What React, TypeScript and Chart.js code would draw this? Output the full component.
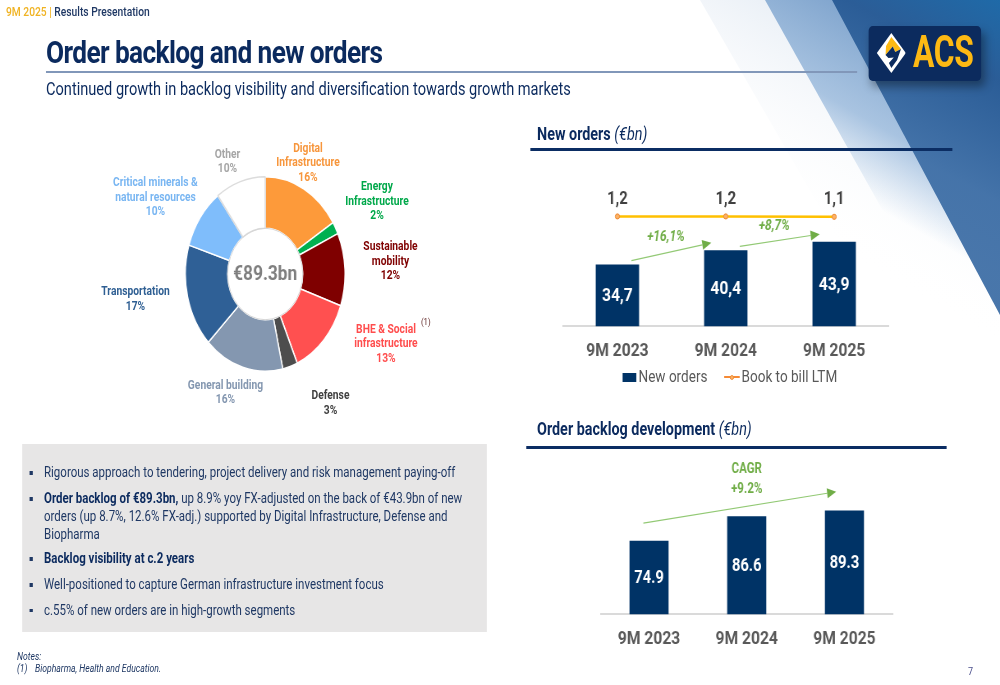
import React, { useEffect, useRef } from "react";
import { Chart, registerables } from "chart.js";

Chart.register(...registerables);

/* ---------- data ---------- */
const segmentNames = [
  "Digital\nInfrastructure",
  "Energy\nInfrastructure",
  "Sustainable\nmobility",
  "BHE & Social\ninfrastructure",
  "Defense",
  "General building",
  "Transportation",
  "Critical minerals &\nnatural resources",
  "Other",
];
const segmentShares = [16, 2, 12, 13, 3, 16, 17, 10, 10];
const segmentNotes = ["", "", "", "(1)", "", "", "", "", ""];

const periods = ["9M 2023", "9M 2024", "9M 2025"];
const newOrders = [34.7, 40.4, 43.9];
const bookToBill = [1.2, 1.2, 1.1];
const newOrdersGrowth = ["+16,1%", "+8,7%"];
const backlog = [74.9, 86.6, 89.3];
const backlogCagr = "+9.2%";

/* ---------- styling ---------- */
// The slide is laid out on a 16:9 sheet and squeezed horizontally into the page.
const SLIDE_W = 1218;
const SX = 1000 / SLIDE_W;
const sx = (x: number) => x / SX;
const FONT = "Roboto, 'Liberation Sans', Arial, sans-serif";
const NAVY = "#0b2a5e";
const TEXT_NAVY = "#1f3864";
const BAR = "#003366";
const GREEN = "#70ad47";
const GREY_TXT = "#595959";

const segmentColors = ["#fd9a3a", "#00b050", "#7f0000", "#ff5050", "#4d4d4d", "#8497b0", "#2f6096", "#7fbdfb", "#ffffff"];
const segmentBorders = ["#ffffff", "#ffffff", "#ffffff", "#ffffff", "#ffffff", "#ffffff", "#ffffff", "#ffffff", "#dcdcdc"];
const segmentTextColors = ["#f7963c", "#00a84a", "#7f0000", "#ff4d4d", "#404040", "#8497b0", "#2f5f93", "#79b6f2", "#a6a6a6"];
// label anchors: centre x, centre y of the first line
const segmentLabelPos: [number, number][] = [
  [308, 148],
  [377, 186.5],
  [390.5, 246.5],
  [386, 329],
  [330.5, 395.5],
  [225.5, 385],
  [135.5, 291.5],
  [155.5, 182.3],
  [227.5, 154],
];

const comma = (v: number) => v.toFixed(1).replace(".", ",");

/* ---------- helpers ---------- */
type TxtProps = {
  x: number;
  cy: number;
  size: number;
  lh?: number;
  weight?: number | string;
  color?: string;
  italic?: boolean;
  center?: boolean;
  children: React.ReactNode;
  extra?: React.CSSProperties;
};
function Txt({ x, cy, size, lh, weight = 400, color = TEXT_NAVY, italic, center, children, extra }: TxtProps) {
  const l = lh ?? Math.round(size * 1.2);
  return (
    <div
      style={{
        position: "absolute",
        left: sx(x),
        top: cy - l / 2,
        fontSize: size,
        lineHeight: `${l}px`,
        fontWeight: weight as any,
        color,
        fontStyle: italic ? "italic" : "normal",
        whiteSpace: "pre",
        transform: center ? "translateX(-50%)" : undefined,
        textAlign: center ? "center" : "left",
        fontFamily: FONT,
        ...extra,
      }}
    >
      {children}
    </div>
  );
}

function drawArrow(ctx: CanvasRenderingContext2D, x0: number, y0: number, x1: number, y1: number) {
  const ang = Math.atan2(y1 - y0, x1 - x0);
  const head = 11;
  const half = 5;
  const bx = x1 - head * Math.cos(ang);
  const by = y1 - head * Math.sin(ang);
  ctx.save();
  ctx.strokeStyle = "#92c974";
  ctx.lineWidth = 1.2;
  ctx.beginPath();
  ctx.moveTo(x0, y0);
  ctx.lineTo(bx, by);
  ctx.stroke();
  ctx.fillStyle = GREEN;
  ctx.beginPath();
  ctx.moveTo(x1, y1);
  ctx.lineTo(bx + half * Math.sin(ang), by - half * Math.cos(ang));
  ctx.lineTo(bx - half * Math.sin(ang), by + half * Math.cos(ang));
  ctx.closePath();
  ctx.fill();
  ctx.restore();
}

const xAxis = {
  grid: { display: false, drawTicks: false },
  border: { display: true, color: "#dadada", width: 2 },
  ticks: { color: GREY_TXT, font: { family: FONT, size: 19, weight: "bold" as const }, padding: 14 },
};

/* ---------- backlog mix doughnut ---------- */
function MixDonut() {
  const ref = useRef<HTMLCanvasElement>(null);
  useEffect(() => {
    const centerTotal = {
      id: "centerTotal",
      afterDatasetsDraw(chart: any) {
        const arc = chart.getDatasetMeta(0).data[0];
        const { x, y, innerRadius } = arc.getProps(["x", "y", "innerRadius"], true);
        const ctx = chart.ctx as CanvasRenderingContext2D;
        ctx.save();
        ctx.beginPath();
        ctx.arc(x, y, innerRadius, 0, Math.PI * 2);
        ctx.strokeStyle = "#d6d6d6";
        ctx.lineWidth = 1;
        ctx.stroke();
        ctx.fillStyle = "#7f7f7f";
        ctx.font = `bold 21px ${FONT}`;
        ctx.textAlign = "center";
        ctx.textBaseline = "middle";
        ctx.fillText(`€${backlog[backlog.length - 1].toFixed(1)}bn`, x, y + 1);
        ctx.restore();
      },
    };
    const chart = new Chart(ref.current!, {
      type: "doughnut",
      data: {
        labels: segmentNames,
        datasets: [
          {
            data: segmentShares,
            backgroundColor: segmentColors,
            borderColor: segmentBorders,
            borderWidth: 1.5,
          },
        ],
      },
      options: {
        responsive: false,
        animation: false,
        cutout: "47%",
        layout: { padding: 0 },
        plugins: { legend: { display: false }, tooltip: { enabled: false } },
      },
      plugins: [centerTotal],
    });
    return () => chart.destroy();
  }, []);
  const size = 196;
  return (
    <canvas
      ref={ref}
      width={size}
      height={size}
      style={{ position: "absolute", left: sx(265.5) - size / 2, top: 273.5 - size / 2, width: size, height: size }}
    />
  );
}

/* ---------- new orders: bars + book-to-bill ---------- */
function NewOrdersChart() {
  const ref = useRef<HTMLCanvasElement>(null);
  useEffect(() => {
    const annotations = {
      id: "newOrdersAnnotations",
      afterDatasetsDraw(chart: any) {
        const ctx = chart.ctx as CanvasRenderingContext2D;
        const bottom = chart.chartArea.bottom;
        const bars = chart.getDatasetMeta(0).data;
        const pts = chart.getDatasetMeta(1).data;
        ctx.save();
        ctx.textAlign = "center";
        ctx.textBaseline = "middle";
        ctx.fillStyle = "#ffffff";
        ctx.font = `bold 19px ${FONT}`;
        bars.forEach((b: any, i: number) => ctx.fillText(comma(newOrders[i]), b.x, (b.y + bottom) / 2 + 1));
        ctx.fillStyle = "#404040";
        ctx.font = `bold 18px ${FONT}`;
        pts.forEach((p: any, i: number) => ctx.fillText(comma(bookToBill[i]), p.x, p.y - 17));
        for (let i = 0; i < bars.length - 1; i++) {
          const a = bars[i];
          const b = bars[i + 1];
          const x0 = a.x + sx(14);
          const y0 = a.y - 4;
          const x1 = b.x - sx(14.5);
          const y1 = b.y - 7.5;
          drawArrow(ctx, x0, y0, x1, y1);
          ctx.fillStyle = GREEN;
          ctx.font = `italic bold 14.5px ${FONT}`;
          ctx.fillText(newOrdersGrowth[i], (x0 + x1) / 2 - sx(5.5), (y0 + y1) / 2 - 14);
        }
        ctx.restore();
      },
    };
    const chart = new Chart(ref.current!, {
      type: "bar",
      data: {
        labels: periods,
        datasets: [
          {
            type: "bar",
            label: "New orders",
            data: newOrders,
            backgroundColor: BAR,
            borderWidth: 0,
            categoryPercentage: 1,
            barPercentage: 0.4,
            yAxisID: "y",
            order: 2,
          },
          {
            type: "line",
            label: "Book to bill LTM",
            data: bookToBill,
            yAxisID: "y1",
            borderColor: "#ffc000",
            borderWidth: 2.5,
            pointRadius: 2.6,
            pointBackgroundColor: "#f9b26a",
            pointBorderColor: "#f08a30",
            pointBorderWidth: 1,
            order: 1,
          },
        ],
      },
      options: {
        responsive: false,
        animation: false,
        layout: { padding: { top: 29, left: 0, right: 0, bottom: 0 } },
        plugins: { legend: { display: false }, tooltip: { enabled: false } },
        scales: {
          x: xAxis,
          y: { display: false, min: 10, max: 65 },
          y1: { display: false, min: -30, max: 9 },
        },
      },
      plugins: [annotations],
    });
    return () => chart.destroy();
  }, []);
  const w = Math.round(sx(333));
  const h = 217;
  return (
    <canvas
      ref={ref}
      width={w}
      height={h}
      style={{ position: "absolute", left: sx(559.5), top: 160, width: w, height: h }}
    />
  );
}

/* ---------- order backlog bars ---------- */
function BacklogChart() {
  const ref = useRef<HTMLCanvasElement>(null);
  useEffect(() => {
    const annotations = {
      id: "backlogAnnotations",
      afterDatasetsDraw(chart: any) {
        const ctx = chart.ctx as CanvasRenderingContext2D;
        const bottom = chart.chartArea.bottom;
        const bars = chart.getDatasetMeta(0).data;
        ctx.save();
        ctx.textAlign = "center";
        ctx.textBaseline = "middle";
        ctx.fillStyle = "#ffffff";
        ctx.font = `bold 18px ${FONT}`;
        bars.forEach((b: any, i: number) => ctx.fillText(backlog[i].toFixed(1), b.x, (b.y + bottom) / 2 + 1));
        const first = bars[0];
        const last = bars[bars.length - 1];
        const x0 = first.x - sx(5.7);
        const y0 = first.y - 17.7;
        const x1 = last.x - sx(8.3);
        const y1 = last.y - 18.7;
        drawArrow(ctx, x0, y0, x1, y1);
        const mid = bars[Math.floor(bars.length / 2)];
        const my = (y0 + y1) / 2;
        ctx.fillStyle = GREEN;
        ctx.font = `bold 14px ${FONT}`;
        ctx.fillText("CAGR", mid.x, my - 37.5);
        ctx.fillText(backlogCagr, mid.x, my - 18.2);
        ctx.restore();
      },
    };
    const chart = new Chart(ref.current!, {
      type: "bar",
      data: {
        labels: periods,
        datasets: [
          {
            label: "Order backlog",
            data: backlog,
            backgroundColor: BAR,
            borderWidth: 0,
            categoryPercentage: 1,
            barPercentage: 0.4,
          },
        ],
      },
      options: {
        responsive: false,
        animation: false,
        layout: { padding: { top: 36, left: 0, right: 0, bottom: 0 } },
        plugins: { legend: { display: false }, tooltip: { enabled: false } },
        scales: {
          x: xAxis,
          y: { display: false, min: 40, max: 100 },
        },
      },
      plugins: [annotations],
    });
    return () => chart.destroy();
  }, []);
  const w = Math.round(sx(293));
  const h = 213;
  return (
    <canvas
      ref={ref}
      width={w}
      height={h}
      style={{ position: "absolute", left: sx(600), top: 452, width: w, height: h }}
    />
  );
}

/* ---------- decorative corner ---------- */
function CornerArt() {
  return (
    <svg width={1000} height={685} style={{ position: "absolute", left: 0, top: 0 }}>
      <defs>
        <linearGradient id="cA" gradientUnits="userSpaceOnUse" x1="850" y1="260" x2="1000" y2="0">
          <stop offset="0" stopColor="#ffffff" stopOpacity="0" />
          <stop offset="1" stopColor="#c3d3e6" stopOpacity="0.9" />
        </linearGradient>
        <linearGradient id="cB" gradientUnits="userSpaceOnUse" x1="880" y1="210" x2="1000" y2="0">
          <stop offset="0" stopColor="#9dbddf" stopOpacity="0" />
          <stop offset="0.3" stopColor="#8fb2d8" stopOpacity="0.75" />
          <stop offset="1" stopColor="#5b88bb" stopOpacity="1" />
        </linearGradient>
        <linearGradient id="cC" gradientUnits="userSpaceOnUse" x1="916" y1="158" x2="1000" y2="0">
          <stop offset="0" stopColor="#3f6fa6" stopOpacity="0.95" />
          <stop offset="0.6" stopColor="#2b5d97" stopOpacity="1" />
          <stop offset="1" stopColor="#1f6aa8" stopOpacity="1" />
        </linearGradient>
      </defs>
      <polygon points="700,0 1000,0 1000,520" fill="url(#cA)" />
      <polygon points="765,0 1000,0 1000,420" fill="url(#cB)" />
      <polygon points="832,0 1000,0 1000,315" fill="url(#cC)" />
    </svg>
  );
}

function Logo() {
  return (
    <div
      style={{
        position: "absolute",
        left: sx(869),
        top: 26,
        width: sx(112),
        height: 55,
        borderRadius: 5,
        background: "#0c2b5e",
        boxShadow: "4px 6px 9px rgba(0,0,0,0.35)",
        overflow: "hidden",
      }}
    >
      <svg
        viewBox="0 0 30 40"
        width={sx(29)}
        height={40}
        preserveAspectRatio="none"
        style={{ position: "absolute", left: sx(8), top: 7 }}
      >
        <polygon points="15,0 30,20 15,40 0,20" fill="#ffffff" />
        <polygon points="15,4 25,16 19,19 16.5,13.5 9,22 9.5,13" fill="#fdb913" />
        <polygon points="9,22 16.5,13.5 19,19 25,16 21,27 15,35 12.5,30 17.5,24.5 12,25" fill="#0c2b5e" />
      </svg>
      <div
        style={{
          position: "absolute",
          left: sx(44),
          top: 4,
          fontFamily: FONT,
          fontWeight: 700,
          fontSize: 44,
          lineHeight: "44px",
          color: "#fdb913",
          transform: "scaleX(0.88)",
          transformOrigin: "0 0",
          letterSpacing: -0.5,
        }}
      >
        ACS
      </div>
    </div>
  );
}

/* ---------- slide ---------- */
export default function App() {
  const bullets: { cy: number; content: React.ReactNode }[] = [
    { cy: 473.3, content: "Rigorous approach to tendering, project delivery and risk management paying-off" },
    {
      cy: 499.3,
      content: (
        <>
          <b style={{ color: NAVY }}>Order backlog of €89.3bn,</b> up 8.9% yoy FX-adjusted on the back of €43.9bn of new
          {"\n"}orders (up 8.7%, 12.6% FX-adj.) supported by Digital Infrastructure, Defense and{"\n"}Biopharma
        </>
      ),
    },
    { cy: 559.3, content: <b style={{ color: NAVY }}>Backlog visibility at c.2 years</b> },
    { cy: 585.3, content: "Well-positioned to capture German infrastructure investment focus" },
    { cy: 610.7, content: "c.55% of new orders are in high-growth segments" },
  ];

  return (
    <div
      style={{
        position: "fixed",
        left: 0,
        top: 0,
        width: 1000,
        height: 685,
        overflow: "hidden",
        background: "#ffffff",
        fontFamily: FONT,
      }}
    >
      <CornerArt />
      <div
        style={{
          position: "absolute",
          left: 0,
          top: 0,
          width: SLIDE_W,
          height: 685,
          transform: `scaleX(${SX})`,
          transformOrigin: "0 0",
        }}
      >
        {/* header */}
        <Txt x={6} cy={11} size={12.5} weight={500} color="#f0b323">
          9M 2025 |<span style={{ color: TEXT_NAVY }}> Results Presentation</span>
        </Txt>
        <Txt x={46} cy={52} size={32} lh={38} weight={700} color={NAVY} extra={{ letterSpacing: -0.75 }}>
          Order backlog and new orders
        </Txt>
        <div style={{ position: "absolute", left: sx(46), top: 71, width: sx(857 - 46), height: 1.6, background: "#8197b9" }} />
        <Txt x={46} cy={88} size={17.8} lh={21} color={NAVY}>
          Continued growth in backlog visibility and diversification towards growth markets
        </Txt>
        <Logo />

        {/* backlog mix */}
        <MixDonut />
        {segmentNames.map((name, i) => {
          const [x, y] = segmentLabelPos[i];
          const lines = name.split("\n");
          return (
            <Txt key={i} x={x} cy={y} size={12.5} lh={14.6} weight={700} color={segmentTextColors[i]} center>
              {lines.map((ln, j) => (
                <div key={j}>
                  <span style={{ position: "relative" }}>
                    {ln}
                    {j === 0 && segmentNotes[i] ? (
                      <span
                        style={{
                          position: "absolute",
                          left: "100%",
                          top: -4,
                          marginLeft: sx(5),
                          fontSize: 9.5,
                          lineHeight: "10px",
                          fontWeight: 400,
                          color: "#5a1e1e",
                        }}
                      >
                        {segmentNotes[i]}
                      </span>
                    ) : null}
                  </span>
                </div>
              ))}
              <div>{segmentShares[i]}%</div>
            </Txt>
          );
        })}

        {/* new orders */}
        <Txt x={537} cy={134} size={17.5} lh={21} weight={700} color={NAVY}>
          New orders <span style={{ fontWeight: 400, fontStyle: "italic" }}>(€bn)</span>
        </Txt>
        <div style={{ position: "absolute", left: sx(530), top: 147.5, width: sx(952 - 530), height: 3, background: "#0b2d63" }} />
        <NewOrdersChart />
        <div style={{ position: "absolute", left: sx(622), top: 373, width: sx(14), height: 8.5, background: BAR }} />
        <Txt x={638.5} cy={377} size={16.5} lh={20} color={GREY_TXT}>
          New orders
        </Txt>
        <div style={{ position: "absolute", left: sx(724), top: 376, width: sx(16), height: 2, background: "#f58a36" }} />
        <div
          style={{
            position: "absolute",
            left: sx(732) - 2.5,
            top: 374.5,
            width: 5,
            height: 5,
            borderRadius: "50%",
            background: "#f9b26a",
            border: "0.8px solid #f08a30",
            boxSizing: "border-box",
          }}
        />
        <Txt x={741.5} cy={377} size={16.5} lh={20} color={GREY_TXT}>
          Book to bill LTM
        </Txt>

        {/* order backlog */}
        <Txt x={537} cy={429.3} size={17.5} lh={21} weight={700} color={NAVY}>
          Order backlog development <span style={{ fontWeight: 400, fontStyle: "italic" }}>(€bn)</span>
        </Txt>
        <div style={{ position: "absolute", left: sx(526), top: 446, width: sx(947 - 526), height: 3, background: "#0b2d63" }} />
        <BacklogChart />

        {/* key messages */}
        <div style={{ position: "absolute", left: sx(22), top: 444, width: sx(465), height: 188, background: "#e7e6e6" }} />
        {bullets.map((b, i) => (
          <React.Fragment key={i}>
            <div
              style={{ position: "absolute", left: sx(29.5), top: b.cy - 2, width: sx(3.6), height: 3.8, background: TEXT_NAVY }}
            />
            <Txt x={44} cy={b.cy} size={14} lh={17.8} color={TEXT_NAVY}>
              {b.content}
            </Txt>
          </React.Fragment>
        ))}

        {/* notes */}
        <Txt x={17} cy={656.7} size={10.5} lh={12} italic color={TEXT_NAVY}>
          Notes:
        </Txt>
        <Txt x={17} cy={669.3} size={10.5} lh={12} italic color={TEXT_NAVY}>
          (1)
        </Txt>
        <Txt x={35} cy={669.3} size={10.5} lh={12} italic color={TEXT_NAVY}>
          Biopharma, Health and Education.
        </Txt>
        <Txt x={968} cy={671} size={11} lh={13} color="#4b4f8c">
          7
        </Txt>
      </div>
    </div>
  );
}
